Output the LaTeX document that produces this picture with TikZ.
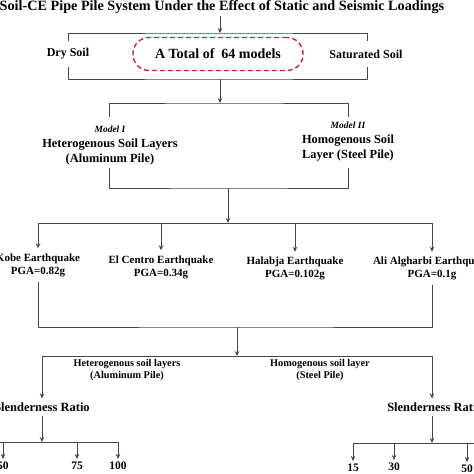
\documentclass[tikz,border=0pt]{standalone}
\usepackage{fontspec}
\setmainfont{Liberation Serif}
\usetikzlibrary{arrows.meta, positioning}
\usepackage{xcolor}
\definecolor{linegray}{RGB}{70,70,70}
\definecolor{dashred}{RGB}{205,35,55}

\begin{document}
\begin{tikzpicture}[
                x=1pt, y=-1pt,
                line join=bevel,
                wire/.style={draw=linegray, line width=0.8pt},
                arr/.style={wire, -{Stealth[length=5pt, width=4.5pt]}},
                txt/.style={font=\bfseries\fontsize{12}{14}\selectfont, inner sep=0pt, align=center, text=black},
                bigtxt/.style={txt, font=\bfseries\fontsize{12.4}{15.5}\selectfont},
                quaketxt/.style={txt, font=\bfseries\fontsize{11}{13}\selectfont, inner sep=5pt},
                numtxt/.style={txt, font=\bfseries\fontsize{11.5}{13}\selectfont, inner sep=3pt},
                slendtxt/.style={txt, font=\bfseries\fontsize{12.5}{14}\selectfont, inner sep=4pt},
                totalbox/.style={draw=dashred, line width=1.4pt, dash pattern=on 5pt off 3pt,
                                 rounded corners=16pt, minimum width=170pt, minimum height=33pt,
                                 font=\bfseries\fontsize{14}{16}\selectfont, text=black}
                ]
                \useasboundingbox (0,0) rectangle (474,474);
                \clip (0,0) rectangle (474,474);

                %% Junctions
                \coordinate (j1) at (220,33);
                \coordinate (j2) at (220,79);
                \coordinate (j3) at (220,103);
                \coordinate (j4) at (228,188);
                \coordinate (j5) at (228,223);
                \coordinate (j6) at (237,327);
                \coordinate (j7) at (237,356);
                \coordinate (k1) at (42,442);
                \coordinate (k2) at (432,443);

                %% Nodes
                \node[txt, font=\bfseries\fontsize{14.2}{16}\selectfont, inner sep=2pt] (title) at (222,7)
                    {Soil-CE Pipe Pile System Under the Effect of Static and Seismic Loadings};

                \node[txt] (drysoil) at (68,54) {Dry Soil};
                \node[totalbox] (total) at (218,54) {A Total of\ \ 64 models};
                \node[txt] (satsoil) at (366,54) {Saturated Soil};

                \node[bigtxt] (modelA) at (110,146)
                    {{\fontsize{9.5}{10}\selectfont\itshape Model I}\\[-1pt] Heterogenous Soil Layers\\ (Aluminum Pile)};
                \node[bigtxt] (modelB) at (348,142)
                    {{\fontsize{9.5}{10}\selectfont\itshape Model II}\\[-1pt] Homogenous Soil\\ Layer (Steel Pile)};

                \node[quaketxt] (kobe) at (38,265) {Kobe Earthquake\\ PGA=0.82g};
                \node[quaketxt] (elcentro) at (161,267) {El Centro Earthquake\\ PGA=0.34g};
                \node[quaketxt] (halabja) at (295,268.5) {Halabja Earthquake\\ PGA=0.102g};
                \node[quaketxt] (alialgharbi) at (432,268.5) {Ali Algharbi Earthquake\\ PGA=0.1g};

                \node[txt, font=\bfseries\fontsize{10.3}{12.5}\selectfont] (heterotxt) at (127,370)
                    {Heterogenous soil layers\\ (Aluminum Pile)};
                \node[txt, font=\bfseries\fontsize{10.3}{12.5}\selectfont] (homotxt) at (320,370)
                    {Homogenous soil layer\\ (Steel Pile)};

                \node[slendtxt] (slendA) at (42,407) {Slenderness Ratio};
                \node[slendtxt] (slendB) at (435,407) {Slenderness Ratio};

                \node[numtxt] (sA50) at (3,466) {50};
                \node[numtxt] (sA75) at (77,466) {75};
                \node[numtxt] (sA100) at (118,466) {100};
                \node[numtxt] (sB15) at (353,468) {15};
                \node[numtxt] (sB30) at (394,467) {30};
                \node[numtxt] (sB50) at (467,469) {50};

                %% Draws
                \draw[arr] (title.south -| j1) -- (j1);
                \draw[wire] (68,41) |- (j1) -| (367,41);
                \draw[wire] (68,67) |- (j2) -| (367,67);
                \draw[arr] (j2) -- (j3);

                \draw[wire] (109,117) |- (j3) -| (348,117);
                \draw[wire] (109,168) |- (j4) -| (348,168);
                \draw[arr] (j4) -- (j5);

                        % Earthquakes
                        \draw[wire] (kobe.north |- j5) -- (alialgharbi.north |- j5);
                        \foreach \q in {kobe, elcentro, halabja, alialgharbi} {
                            \draw[arr] (\q.north |- j5) -- (\q.north);
                        }
                \draw[wire] (kobe.south) |- (j6) -| (alialgharbi.south);
                \draw[arr] (j6) -- (j7);

                        % Pile type
                        \draw[arr] (j7) -| (slendA);
                        \draw[arr] (j7) -| (slendB.north -| k2);

                        % Slenderness ratio
                        \draw[arr] (slendA) -- (k1);
                        \draw[wire] (-5,442) -- (sA100 |- k1);
                        \foreach \n in {sA50, sA75, sA100} {
                            \draw[arr] (\n |- k1) -- (\n);
                        }
                        \draw[arr] (slendB.south -| k2) -- (k2);
                        \draw[wire] (sB15 |- k2) -- (480,443);
                        \foreach \n in {sB15, sB30, sB50} {
                            \draw[arr] (\n |- k2) -- (\n);
                        }
                \end{tikzpicture}
\end{document}
